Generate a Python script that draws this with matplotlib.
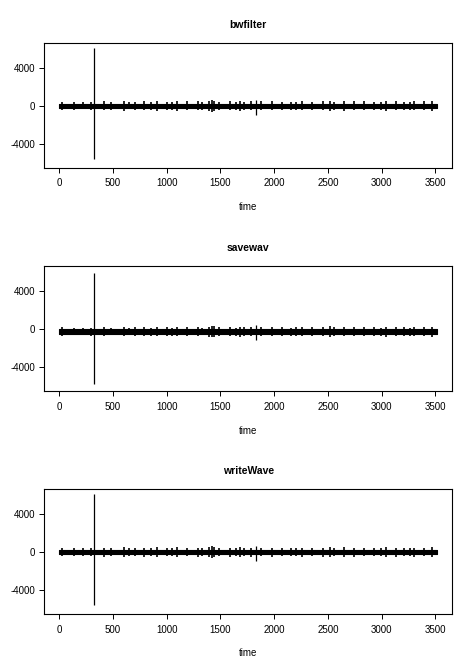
import matplotlib
matplotlib.use("Agg")
import matplotlib.pyplot as plt

plt.rcParams['font.family'] = ['Liberation Sans', 'DejaVu Sans']
plt.rcParams['axes.unicode_minus'] = False

titles = ["bwfilter", "savewav", "writeWave"]

# steady background band of the signal (time, lower, upper)
band_t = [0, 3515]
band_lo = [[-250, -250], [-480, -480], [-250, -250]]
band_hi = [[230, 230], [10, 10], [230, 230]]

# louder bursts in the noise
burst_t = [28, 134, 220, 300, 413, 480, 599, 650, 708, 792, 850, 910,
           1003, 1050, 1096, 1189, 1292, 1330, 1391, 1420, 1440, 1484,
           1593, 1640, 1686, 1720, 1786, 1873, 1981, 2075, 2152, 2200,
           2261, 2354, 2457, 2520, 2556, 2649, 2742, 2835, 2929, 2990,
           3037, 3130, 3208, 3260, 3301, 3394, 3472]
burst_amp = [450, 400, 380, 420, 480, 400, 500, 380, 450, 480, 420, 500,
             450, 420, 500, 460, 480, 400, 520, 600, 550, 450,
             480, 420, 520, 450, 470, 460, 480, 450, 420, 440,
             470, 450, 480, 560, 450, 500, 470, 460, 450, 420,
             520, 470, 440, 420, 480, 460, 520]
burst_center = [0, -240, 0]

# two clicks: the big one near t=320 and the smaller one near t=1830
click_t = [320, 1830]
click_hi = [[6100, 650], [5870, 420], [6100, 650]]
click_lo = [[-5580, -950], [-5770, -1150], [-5580, -950]]

xticks = [0, 500, 1000, 1500, 2000, 2500, 3000, 3500]
yticks = [-4000, 0, 4000]

fig = plt.figure(figsize=(4.74, 6.69), dpi=100)
boxes = [[0.093, 0.749, 0.861, 0.187],
         [0.093, 0.415, 0.861, 0.187],
         [0.093, 0.082, 0.861, 0.187]]

for i in range(3):
    ax = fig.add_axes(boxes[i])
    c = burst_center[i]
    ax.fill_between(band_t, band_lo[i], band_hi[i], color='black', lw=0.8)
    ax.vlines(burst_t, [c - a for a in burst_amp], [c + a for a in burst_amp],
              color='black', lw=1.2)
    ax.vlines(click_t, click_lo[i], click_hi[i], color='black', lw=0.9)
    ax.set_xlim(-141, 3656)
    ax.set_ylim(-6530, 6630)
    ax.set_xticks(xticks)
    ax.set_yticks(yticks)
    ax.tick_params(direction='out', length=3.5, width=0.7, labelsize=7,
                   colors='black')
    ax.tick_params(axis='x', pad=4)
    ax.tick_params(axis='y', pad=3)
    for s in ax.spines.values():
        s.set_linewidth(0.8)
    ax.set_xlabel("time", fontsize=7, labelpad=10)
    ax.set_title(titles[i], fontsize=7.5, fontweight='bold', pad=11)

fig.savefig("out.png", dpi=100)
